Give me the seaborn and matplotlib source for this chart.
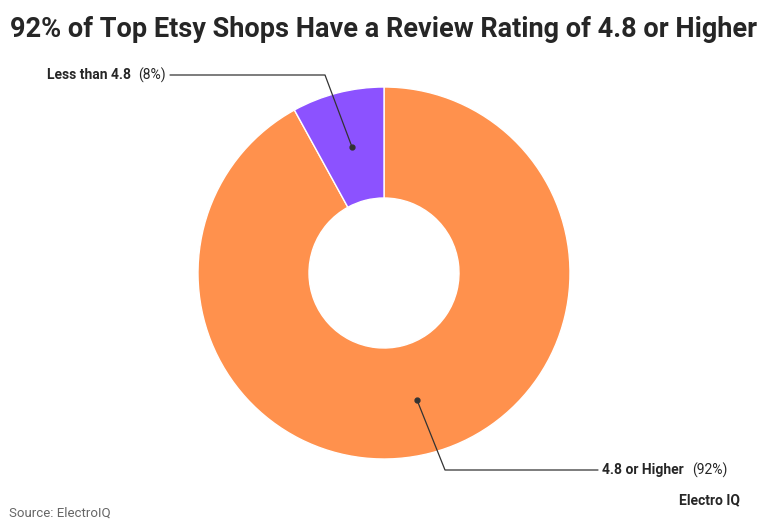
import matplotlib
matplotlib.use("Agg")
import matplotlib.pyplot as plt
import seaborn as sns

sns.set_theme(style="white")
plt.rcParams['font.family'] = ['Roboto', 'DejaVu Sans']

labels = ["4.8 or Higher", "Less than 4.8"]
shares = [92, 8]
colors = ["#FF914D", "#8C52FF"]

fig = plt.figure(figsize=(7.67, 5.32), dpi=100)
ax = fig.add_axes([0, 0, 1, 1])

cx, cy, r = 384, 259, 186
ax.pie(shares, colors=colors, startangle=90, counterclock=False,
       center=(cx, cy), radius=r, frame=True,
       wedgeprops=dict(width=r - 75, edgecolor="white", linewidth=1))
ax.set_xlim(0, 767)
ax.set_ylim(0, 532)
ax.set_aspect("equal")
ax.axis("off")

# callouts
ax.plot([352, 325, 170], [532 - 147, 532 - 75, 532 - 75], color="#333333", lw=0.9)
ax.plot(352, 532 - 147, "o", color="#333333", ms=3.5)
ax.text(166, 532 - 75, f"({shares[1]}%)", ha="right", va="center", fontsize=10)
ax.text(131, 532 - 75, labels[1], ha="right", va="center", fontsize=10, fontweight="bold")

ax.plot([417, 445, 598], [532 - 400, 532 - 470, 532 - 470], color="#333333", lw=0.9)
ax.plot(417, 532 - 400, "o", color="#333333", ms=3.5)
ax.text(602, 532 - 470, labels[0], ha="left", va="center", fontsize=10, fontweight="bold")
ax.text(692, 532 - 470, f"({shares[0]}%)", ha="left", va="center", fontsize=10)

fig.text(0.5, 0.945, "92% of Top Etsy Shops Have a Review Rating of 4.8 or Higher",
         ha="center", va="center", fontsize=19.5, fontweight="bold")
fig.text(0.012, 0.035, "Source: ElectroIQ", ha="left", va="center", fontsize=9.5, color="#666666")
fig.text(0.965, 0.06, "Electro IQ", ha="right", va="center", fontsize=10, fontweight="bold")

fig.savefig("out.png", dpi=100)
